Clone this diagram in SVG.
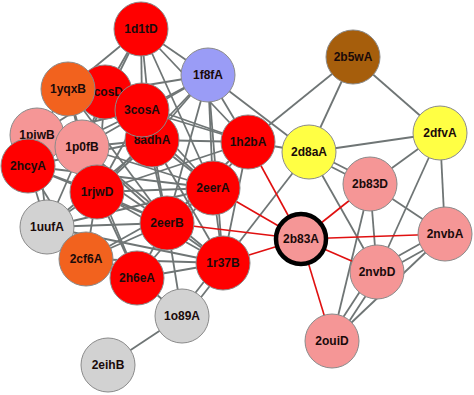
<svg xmlns="http://www.w3.org/2000/svg" width="474" height="395" viewBox="0 0 474 395">
<defs>
<style>
.e{stroke:#6f7575;stroke-width:1.8;fill:none}
.r{stroke:#e01010;stroke-width:1.6;fill:none}
circle{stroke:#8a8a8a;stroke-width:1}
text{font-family:"Liberation Sans",Arial,sans-serif;font-weight:bold;font-size:12px;fill:#1a0a0a;text-anchor:middle;dominant-baseline:central}
.red{fill:#ff0000}
.pk{fill:#f59696}
.or{fill:#f2621e}
.gy{fill:#d2d2d2}
.yl{fill:#ffff44}
</style>
</defs>
<rect width="474" height="395" fill="#ffffff"/>
<g id="connectors">
<!-- left cluster -->
<line class="e" x1="141" y1="29" x2="105" y2="92"/>
<line class="e" x1="141" y1="29" x2="142" y2="110"/>
<line class="e" x1="141" y1="29" x2="152" y2="140"/>
<line class="e" x1="141" y1="29" x2="208" y2="75"/>
<line class="e" x1="141" y1="29" x2="248" y2="142"/>
<line class="e" x1="141" y1="29" x2="68" y2="89"/>
<line class="e" x1="141" y1="29" x2="82" y2="147"/>
<line class="e" x1="141" y1="29" x2="213" y2="188"/>
<line class="e" x1="208" y1="75" x2="105" y2="92"/>
<line class="e" x1="208" y1="75" x2="142" y2="110"/>
<line class="e" x1="208" y1="75" x2="152" y2="140"/>
<line class="e" x1="208" y1="75" x2="248" y2="142"/>
<line class="e" x1="208" y1="75" x2="213" y2="188"/>
<line class="e" x1="208" y1="75" x2="167" y2="223"/>
<line class="e" x1="208" y1="75" x2="223" y2="263"/>
<line class="e" x1="208" y1="75" x2="97" y2="192"/>
<line class="e" x1="208" y1="75" x2="309" y2="152"/>
<line class="e" x1="208" y1="75" x2="82" y2="147"/>
<line class="e" x1="105" y1="92" x2="152" y2="140"/>
<line class="e" x1="105" y1="92" x2="37" y2="135"/>
<line class="e" x1="105" y1="92" x2="82" y2="147"/>
<line class="e" x1="105" y1="92" x2="97" y2="192"/>
<line class="e" x1="105" y1="92" x2="213" y2="188"/>
<line class="e" x1="105" y1="92" x2="248" y2="142"/>
<line class="e" x1="142" y1="110" x2="248" y2="142"/>
<line class="e" x1="142" y1="110" x2="213" y2="188"/>
<line class="e" x1="142" y1="110" x2="97" y2="192"/>
<line class="e" x1="142" y1="110" x2="167" y2="223"/>
<line class="e" x1="142" y1="110" x2="37" y2="135"/>
<line class="e" x1="142" y1="110" x2="28" y2="166"/>
<line class="e" x1="152" y1="140" x2="248" y2="142"/>
<line class="e" x1="152" y1="140" x2="213" y2="188"/>
<line class="e" x1="152" y1="140" x2="167" y2="223"/>
<line class="e" x1="152" y1="140" x2="97" y2="192"/>
<line class="e" x1="152" y1="140" x2="82" y2="147"/>
<line class="e" x1="152" y1="140" x2="223" y2="263"/>
<line class="e" x1="152" y1="140" x2="28" y2="166"/>
<line class="e" x1="152" y1="140" x2="47" y2="227"/>
<line class="e" x1="152" y1="140" x2="68" y2="89"/>
<line class="e" x1="68" y1="89" x2="37" y2="135"/>
<line class="e" x1="68" y1="89" x2="82" y2="147"/>
<line class="e" x1="68" y1="89" x2="97" y2="192"/>
<line class="e" x1="68" y1="89" x2="167" y2="223"/>
<line class="e" x1="37" y1="135" x2="97" y2="192"/>
<line class="e" x1="37" y1="135" x2="47" y2="227"/>
<line class="e" x1="37" y1="135" x2="167" y2="223"/>
<line class="e" x1="82" y1="147" x2="97" y2="192"/>
<line class="e" x1="82" y1="147" x2="167" y2="223"/>
<line class="e" x1="82" y1="147" x2="213" y2="188"/>
<line class="e" x1="82" y1="147" x2="47" y2="227"/>
<line class="e" x1="82" y1="147" x2="137" y2="278"/>
<line class="e" x1="82" y1="147" x2="223" y2="263"/>
<line class="e" x1="28" y1="166" x2="97" y2="192"/>
<line class="e" x1="28" y1="166" x2="47" y2="227"/>
<line class="e" x1="28" y1="166" x2="167" y2="223"/>
<line class="e" x1="28" y1="166" x2="86" y2="259"/>
<line class="e" x1="28" y1="166" x2="213" y2="188"/>
<line class="e" x1="97" y1="192" x2="213" y2="188"/>
<line class="e" x1="97" y1="192" x2="167" y2="223"/>
<line class="e" x1="97" y1="192" x2="47" y2="227"/>
<line class="e" x1="97" y1="192" x2="86" y2="259"/>
<line class="e" x1="97" y1="192" x2="137" y2="278"/>
<line class="e" x1="97" y1="192" x2="223" y2="263"/>
<line class="e" x1="97" y1="192" x2="248" y2="142"/>
<line class="e" x1="213" y1="188" x2="248" y2="142"/>
<line class="e" x1="213" y1="188" x2="167" y2="223"/>
<line class="e" x1="213" y1="188" x2="223" y2="263"/>
<line class="e" x1="213" y1="188" x2="137" y2="278"/>
<line class="e" x1="213" y1="188" x2="47" y2="227"/>
<line class="e" x1="213" y1="188" x2="86" y2="259"/>
<line class="e" x1="248" y1="142" x2="167" y2="223"/>
<line class="e" x1="248" y1="142" x2="223" y2="263"/>
<line class="e" x1="167" y1="223" x2="223" y2="263"/>
<line class="e" x1="167" y1="223" x2="137" y2="278"/>
<line class="e" x1="167" y1="223" x2="86" y2="259"/>
<line class="e" x1="167" y1="223" x2="47" y2="227"/>
<line class="e" x1="167" y1="223" x2="182" y2="316"/>
<line class="e" x1="47" y1="227" x2="86" y2="259"/>
<line class="e" x1="47" y1="227" x2="137" y2="278"/>
<line class="e" x1="47" y1="227" x2="223" y2="263"/>
<line class="e" x1="86" y1="259" x2="137" y2="278"/>
<line class="e" x1="86" y1="259" x2="223" y2="263"/>
<line class="e" x1="137" y1="278" x2="223" y2="263"/>
<line class="e" x1="137" y1="278" x2="182" y2="316"/>
<line class="e" x1="220" y1="261" x2="179" y2="314"/>
<line class="e" x1="226" y1="265" x2="185" y2="318"/>
<line class="e" x1="182" y1="316" x2="108" y2="365"/>
<!-- right side -->
<line class="e" x1="353" y1="57" x2="248" y2="142"/>
<line class="e" x1="353" y1="57" x2="309" y2="152"/>
<line class="e" x1="353" y1="57" x2="440" y2="133"/>
<line class="e" x1="309" y1="152" x2="248" y2="142"/>
<line class="e" x1="309" y1="152" x2="440" y2="133"/>
<line class="e" x1="309" y1="150" x2="370" y2="181"/>
<line class="e" x1="308" y1="155" x2="369" y2="186"/>
<line class="e" x1="309" y1="152" x2="377" y2="272"/>
<line class="e" x1="309" y1="152" x2="223" y2="263"/>
<line class="e" x1="440" y1="133" x2="370" y2="184"/>
<line class="e" x1="440" y1="133" x2="377" y2="272"/>
<line class="e" x1="440" y1="133" x2="445" y2="234"/>
<line class="e" x1="370" y1="184" x2="445" y2="234"/>
<line class="e" x1="370" y1="184" x2="377" y2="272"/>
<line class="e" x1="370" y1="184" x2="332" y2="341"/>
<line class="e" x1="443" y1="231" x2="375" y2="269"/>
<line class="e" x1="447" y1="237" x2="379" y2="275"/>
<line class="e" x1="445" y1="234" x2="332" y2="341"/>
<line class="e" x1="374" y1="270" x2="329" y2="339"/>
<line class="e" x1="380" y1="274" x2="335" y2="343"/>
<!-- red edges -->
<line class="r" x1="301" y1="239" x2="248" y2="142"/>
<line class="r" x1="301" y1="239" x2="213" y2="188"/>
<line class="r" x1="301" y1="239" x2="167" y2="223"/>
<line class="r" x1="301" y1="239" x2="223" y2="263"/>
<line class="r" x1="301" y1="239" x2="370" y2="184"/>
<line class="r" x1="301" y1="239" x2="445" y2="234"/>
<line class="r" x1="301" y1="239" x2="377" y2="272"/>
<line class="r" x1="301" y1="239" x2="332" y2="341"/>
</g>
<g id="n1d1tD"><circle class="red" cx="141" cy="29" r="27"/><text x="141" y="29">1d1tD</text></g>
<g id="n1f8fA"><circle cx="208" cy="75" r="27" fill="#9a9cf6"/><text x="208" y="75">1f8fA</text></g>
<g id="n3cosD"><circle class="red" cx="105" cy="92" r="27"/><text x="105" y="92">3cosD</text></g>
<g id="n8adhA"><circle class="red" cx="152" cy="140" r="27"/><text x="152" y="140">8adhA</text></g>
<g id="n3cosA"><circle class="red" cx="142" cy="110" r="27"/><text x="142" y="110">3cosA</text></g>
<g id="n1yqxB"><circle class="or" cx="68" cy="89" r="27"/><text x="68" y="89">1yqxB</text></g>
<g id="n1piwB"><circle class="pk" cx="37" cy="135" r="27"/><text x="37" y="135">1piwB</text></g>
<g id="n2hcyA"><circle class="red" cx="28" cy="166" r="27"/><text x="28" y="166">2hcyA</text></g>
<g id="n1p0fB"><circle class="pk" cx="82" cy="147" r="27"/><text x="82" y="147">1p0fB</text></g>
<g id="n1rjwD"><circle class="red" cx="97" cy="192" r="27"/><text x="97" y="192">1rjwD</text></g>
<g id="n1h2bA"><circle class="red" cx="248" cy="142" r="27"/><text x="248" y="142">1h2bA</text></g>
<g id="n2eerA"><circle class="red" cx="213" cy="188" r="27"/><text x="213" y="188">2eerA</text></g>
<g id="n1uufA"><circle class="gy" cx="47" cy="227" r="27"/><text x="47" y="227">1uufA</text></g>
<g id="n2eerB"><circle class="red" cx="167" cy="223" r="27"/><text x="167" y="223">2eerB</text></g>
<g id="n2cf6A"><circle class="or" cx="86" cy="259" r="27"/><text x="86" y="259">2cf6A</text></g>
<g id="n2h6eA"><circle class="red" cx="137" cy="278" r="27"/><text x="137" y="278">2h6eA</text></g>
<g id="n1r37B"><circle class="red" cx="223" cy="263" r="27"/><text x="223" y="263">1r37B</text></g>
<g id="n1o89A"><circle class="gy" cx="182" cy="316" r="27"/><text x="182" y="316">1o89A</text></g>
<g id="n2eihB"><circle class="gy" cx="108" cy="365" r="27"/><text x="108" y="365">2eihB</text></g>
<g id="n2b5wA"><circle cx="353" cy="57" r="27" fill="#a65e0c"/><text x="353" y="57">2b5wA</text></g>
<g id="n2d8aA"><circle class="yl" cx="309" cy="152" r="27"/><text x="309" y="152">2d8aA</text></g>
<g id="n2dfvA"><circle class="yl" cx="440" cy="133" r="27"/><text x="440" y="133">2dfvA</text></g>
<g id="n2b83D"><circle class="pk" cx="370" cy="184" r="27"/><text x="370" y="184">2b83D</text></g>
<g id="n2b83A"><circle class="pk" cx="301" cy="239" r="25" style="stroke:#000;stroke-width:4.5"/><text x="301" y="239">2b83A</text></g>
<g id="n2nvbA"><circle class="pk" cx="445" cy="234" r="27"/><text x="445" y="234">2nvbA</text></g>
<g id="n2nvbD"><circle class="pk" cx="377" cy="272" r="27"/><text x="377" y="272">2nvbD</text></g>
<g id="n2ouiD"><circle class="pk" cx="332" cy="341" r="27"/><text x="332" y="341">2ouiD</text></g>
</svg>
